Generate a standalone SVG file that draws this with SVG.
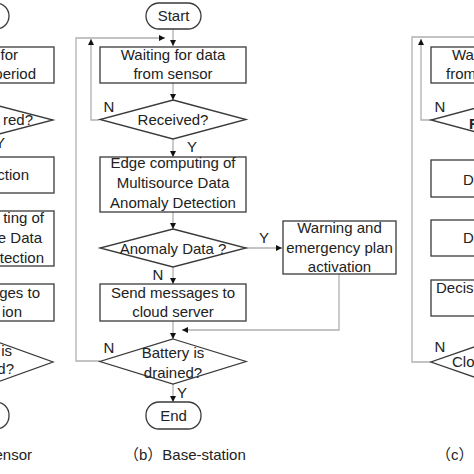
<svg xmlns="http://www.w3.org/2000/svg" width="474" height="474" viewBox="0 0 474 474">
<defs>
<marker id="ah" viewBox="0 0 6 6" refX="6" refY="3" markerWidth="6" markerHeight="6" markerUnits="userSpaceOnUse" orient="auto"><path d="M0,0 L6,3 L0,6 z" fill="#111"/></marker>
</defs>
<style>
.box{fill:#fff;stroke:#3a3a3a;stroke-width:1.3}
.ln{fill:none;stroke:#b0b0b0;stroke-width:1.3}
.ar{fill:none;stroke:#b0b0b0;stroke-width:1.3;marker-end:url(#ah)}
text{font-family:"Liberation Sans","Noto Sans CJK SC",sans-serif;font-size:15px;fill:#222}
.m{text-anchor:middle}
.e{text-anchor:end}
.lbl{text-anchor:middle}
</style>
<rect width="474" height="474" fill="#fff"/>

<g id="connectors">
<path class="ar" d="M173,29 V46"/>
<path class="ar" d="M100,361 H76 V38 H165"/>
<path class="ar" d="M99,120 H91 V39"/>
<path class="ar" d="M173,83 V100"/>
<path class="ar" d="M173,138 V157"/>
<path class="ar" d="M173,212 V229"/>
<path class="ar" d="M245,248 H282"/>
<path class="ar" d="M173,266 V284"/>
<path class="ar" d="M173,321 V339"/>
<path class="ar" d="M339,274 V330 H182"/>
<path class="ar" d="M173,384 V402"/>
<path class="ln" d="M431,362 H412 V37 H474"/>
<path class="ar" d="M431,120 H421 V39"/>
</g>

<g id="panel-a">
<rect class="box" x="-46" y="3" width="55" height="26" rx="13"/>
<g id="a-wait"><rect class="box" x="-92" y="47" width="146" height="36"/>
<text class="e" x="18" y="60">for</text><text class="e" x="36" y="79">period</text></g>
<g id="a-check"><polygon class="box" points="-20,101 53,120 -20,139 -93,120"/>
<text class="e" x="33" y="125">red?</text></g>
<text x="-5" y="148">Y</text>
<g id="a-collect"><rect class="box" x="-92" y="157" width="146" height="36"/>
<text class="e" x="29" y="180">ction</text></g>
<g id="a-edge"><rect class="box" x="-92" y="211" width="146" height="55"/>
<text class="e" x="44" y="223">ting of</text><text class="e" x="42" y="243">e Data</text><text class="e" x="44" y="263">tection</text></g>
<g id="a-send"><rect class="box" x="-92" y="284" width="146" height="37"/>
<text class="e" x="40" y="298">ges to</text><text class="e" x="22" y="317">ion</text></g>
<g id="a-battery"><polygon class="box" points="-19,336 53,362 -19,388 -91,362"/>
<text class="e" x="12" y="356">is</text><text class="e" x="14" y="374">d?</text></g>
<rect class="box" x="-46" y="402" width="55" height="27" rx="13"/>
<text class="e" x="32" y="460">ensor</text>
</g>

<g id="panel-b">
<g id="b-start"><rect class="box" x="146" y="3" width="55" height="26" rx="13"/><text class="m" x="173.5" y="21">Start</text></g>
<g id="b-wait"><rect class="box" x="100" y="47" width="146" height="36"/>
<text class="m" x="173" y="60">Waiting for data</text><text class="m" x="173" y="79">from sensor</text></g>
<g id="b-received"><polygon class="box" points="173,100 246,119.5 173,139 100,119.5"/>
<text class="m" x="173" y="125">Received?</text></g>
<g id="b-edge"><rect class="box" x="100" y="157" width="146" height="55"/>
<text class="m" x="173" y="168">Edge computing of</text><text class="m" x="173" y="188">Multisource Data</text><text class="m" x="173" y="208">Anomaly Detection</text></g>
<g id="b-anomaly"><polygon class="box" points="173,229 246,248 173,267 100,248"/>
<text class="m" x="173" y="254">Anomaly Data ?</text></g>
<g id="b-warning"><rect class="box" x="283" y="221" width="113" height="53"/>
<text class="m" x="339.5" y="233">Warning and</text><text class="m" x="339.5" y="253">emergency plan</text><text class="m" x="339.5" y="272">activation</text></g>
<g id="b-send"><rect class="box" x="100" y="284" width="146" height="37"/>
<text class="m" x="173" y="298">Send messages to</text><text class="m" x="173" y="317">cloud server</text></g>
<g id="b-battery"><polygon class="box" points="173,339 246,361.5 173,384 100,361.5"/>
<text class="m" x="173" y="358">Battery is</text><text class="m" x="173" y="378">drained?</text></g>
<g id="b-end"><rect class="box" x="146" y="402" width="55" height="27" rx="13"/><text class="m" x="173.5" y="421">End</text></g>
<text class="lbl" x="109" y="112">N</text>
<text class="lbl" x="192" y="152">Y</text>
<text class="lbl" x="264" y="243">Y</text>
<text class="lbl" x="158" y="280">N</text>
<text class="lbl" x="109" y="353">N</text>
<text class="lbl" x="182" y="398">Y</text>
<text x="124" y="460">（b）Base-station</text>
</g>

<g id="panel-c">
<g id="c-wait"><rect class="box" x="431" y="47" width="100" height="36"/>
<text x="452" y="60">Wa</text><text x="446" y="79">from</text></g>
<g id="c-received"><polygon class="box" points="504,100.5 577,120 504,139.5 431,120"/>
<text x="469" y="129" style="font-weight:bold">R</text></g>
<g id="c-box2"><rect class="box" x="431" y="160" width="100" height="37"/><text x="463" y="185">Da</text></g>
<g id="c-box3"><rect class="box" x="431" y="220" width="100" height="36"/><text x="463" y="243">Da</text></g>
<g id="c-box4"><rect class="box" x="431" y="280" width="100" height="36"/><text x="436" y="293">Decisi</text></g>
<g id="c-cloud"><polygon class="box" points="504,336.5 577,362 504,387.5 431,362"/>
<text x="452" y="367">Clo</text></g>
<text class="lbl" x="440" y="112">N</text>
<text class="lbl" x="440" y="352">N</text>
<text x="436" y="460">（c）</text>
</g>
</svg>
